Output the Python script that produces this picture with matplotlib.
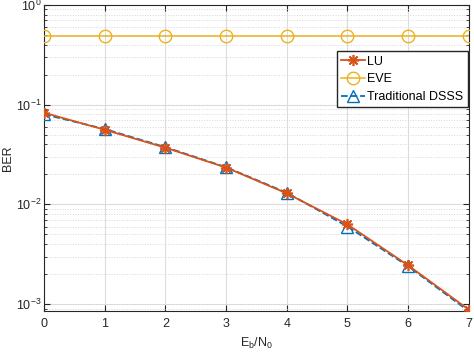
import matplotlib
matplotlib.use('Agg')
import matplotlib.pyplot as plt
import numpy as np

plt.rcParams['font.family'] = 'Liberation Sans'
plt.rcParams['mathtext.fontset'] = 'custom'
plt.rcParams['mathtext.rm'] = 'Liberation Sans'
plt.rcParams['mathtext.it'] = 'Liberation Sans'
plt.rcParams['font.size'] = 9

ebn0 = [0, 1, 2, 3, 4, 5, 6, 7]
ber_lu = [0.083, 0.056, 0.037, 0.0234, 0.0129, 0.0063, 0.00245, 0.00088]
ber_eve = [0.49, 0.49, 0.49, 0.49, 0.49, 0.49, 0.49, 0.49]
ber_dsss = [0.080, 0.057, 0.0375, 0.0236, 0.0131, 0.0060, 0.0024, 0.00085]

fig = plt.figure(figsize=(4.74, 3.52), dpi=100)
ax = fig.add_axes([0.093, 0.116, 0.896, 0.870])

# asterisk-like marker (MATLAB '*')
star = (8, 2, 0)
l1, = ax.semilogy(ebn0, ber_lu, '-', marker=star, color='#D95319', lw=1.3, ms=8,
                  mew=1.2, zorder=4)
l2, = ax.semilogy(ebn0, ber_eve, '-o', color='#EDB120', lw=1.1, ms=9,
                  markerfacecolor='none', zorder=3)
l3, = ax.semilogy(ebn0, ber_dsss, '--^', color='#0072BD', lw=1.3, ms=8,
                  markerfacecolor='none', zorder=3)

ax.set_xlim(0, 7)
ax.set_ylim(8.5e-4, 1)
ax.set_xticks(ebn0)
ax.grid(True, which='major', color='#dcdcdc', lw=0.8)
ax.grid(True, which='minor', color='#d8d8d8', lw=0.7, ls=':')
ax.tick_params(which='both', direction='in', top=True, right=True,
               colors='#262626', labelsize=9)
ax.tick_params(axis='x', pad=5)
ax.tick_params(axis='y', pad=2)
ax.tick_params(which='major', length=4)
ax.tick_params(which='minor', length=2)
for s in ax.spines.values():
    s.set_color('#262626')
    s.set_linewidth(0.8)

ax.set_xlabel(r'E$_\mathrm{b}$/N$_0$', color='#262626', labelpad=4)
ax.set_ylabel('BER', color='#262626')
ax.yaxis.set_label_coords(-0.072, 0.5)
ax.legend([l1, l2, l3], ['LU', 'EVE', 'Traditional DSSS'],
          loc='upper right', bbox_to_anchor=(0.998, 0.848),
          fancybox=False, edgecolor='#262626', framealpha=1, fontsize=9,
          handlelength=1.9, borderpad=0.35, labelspacing=0.45, handletextpad=0.2,
          borderaxespad=0)

fig.savefig('out.png', dpi=100)
